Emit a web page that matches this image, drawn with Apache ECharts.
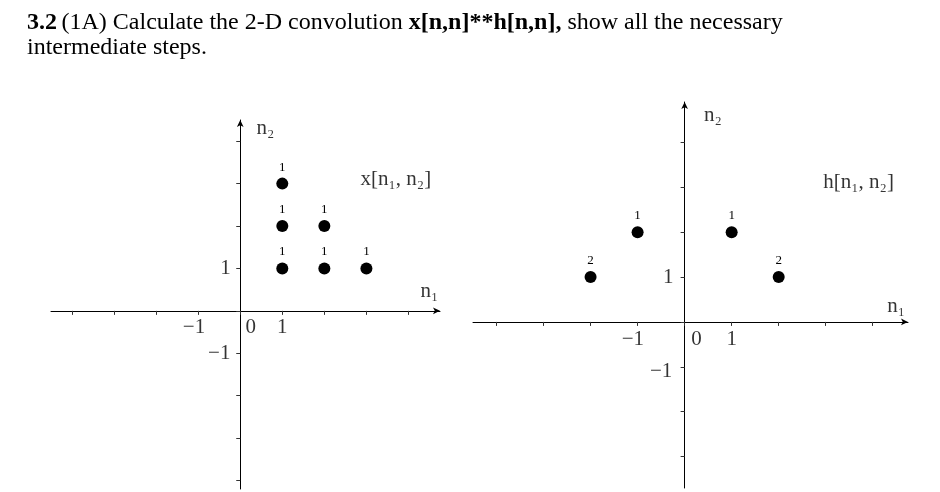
<!DOCTYPE html>
<html><head><meta charset="utf-8">
<script src="https://cdn.jsdelivr.net/npm/echarts@6/dist/echarts.min.js"></script>
<style>html,body{margin:0;background:#fff}#c{width:940px;height:492px}</style>
</head><body><div id="c"></div>
<script>
// x[n1,n2] samples: [n1, n2, value]
const xPoints = [[1,1,1],[2,1,1],[3,1,1],[1,2,1],[2,2,1],[1,3,1]];
// h[n1,n2] samples
const hPoints = [[-2,1,2],[-1,2,1],[1,2,1],[2,1,2]];
const ticks = [-4,-3,-2,-1,0,1,2,3,4];
// axis annotations: [n1, n2, text]
const xLabels = [[-1.1,-0.4,'−1'],[0.25,-0.4,'0'],[1,-0.4,'1'],[-0.35,1,'1'],[-0.5,-1,'−1'],[0.6,4.3,'n₂'],[4.5,0.45,'n₁'],[3.7,3.1,'x[n₁, n₂]']];
const hLabels = [[-1.1,-0.4,'−1'],[0.25,-0.4,'0'],[1,-0.4,'1'],[-0.35,1,'1'],[-0.5,-1.1,'−1'],[0.6,4.6,'n₂'],[4.5,0.35,'n₁'],[3.7,3.1,'h[n₁, n₂]']];

const FONT = 'Liberation Serif';
const chart = echarts.init(document.getElementById('c'));
function ax(min,max,idx){
  return {type:'value',min,max,gridIndex:idx,splitLine:{show:false},
    axisLine:{onZero:true,lineStyle:{color:'#000',width:1},symbol:['none','arrow'],symbolSize:[5,7]},
    axisTick:{customValues:ticks,length:4,lineStyle:{color:'#333'}},axisLabel:{show:false}};
}
function pts(data,xi){
  return {type:'scatter',xAxisIndex:xi,yAxisIndex:xi,symbolSize:12,itemStyle:{color:'#000',opacity:1},
    data:data.map(d=>[d[0],d[1],d[2]]),
    label:{show:true,position:'top',distance:4,formatter:p=>String(p.value[2]),fontFamily:FONT,fontSize:13,color:'#000'}};
}
function labs(data,xi){
  return {type:'scatter',xAxisIndex:xi,yAxisIndex:xi,symbolSize:0,silent:true,
    data:data.map(d=>({value:[d[0],d[1]],name:d[2]})),
    label:{show:true,position:'inside',formatter:p=>p.name,fontFamily:FONT,fontSize:21,color:'#000'}};
}
chart.setOption({
  animation:false,
  title:{left:22,top:5,text:'{b|3.2} {n|(1A) Calculate the 2-D convolution }{b|x[n,n]**h[n,n],}{n| show all the necessary}\n{n|intermediate steps.}',
    textStyle:{fontWeight:'normal',fontFamily:FONT,
      rich:{b:{fontFamily:FONT,fontWeight:'bold',fontSize:24,color:'#000',lineHeight:25},n:{fontFamily:FONT,fontWeight:'normal',fontSize:24,color:'#000',lineHeight:25}}}},
  grid:[{left:51,right:500,top:120,bottom:3},{left:473,right:32,top:102,bottom:4}],
  xAxis:[ax(-4.5,4.75,0),ax(-4.5,4.75,1)],
  yAxis:[ax(-4.2,4.5,0),ax(-3.7,4.9,1)],
  series:[pts(xPoints,0),pts(hPoints,1),labs(xLabels,0),labs(hLabels,1)]
});
</script></body></html>
